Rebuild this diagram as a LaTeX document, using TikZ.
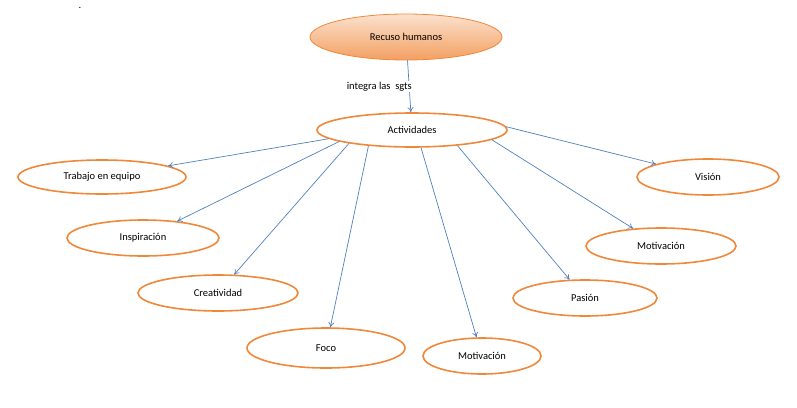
\documentclass[tikz,border=0pt]{standalone}
\usepackage{fontspec}
\setmainfont{Carlito}
\usetikzlibrary{shapes.geometric,arrows.meta}
\definecolor{org}{HTML}{F0883A}
\definecolor{blu}{HTML}{4F81BD}
\begin{document}
\begin{tikzpicture}[x=1pt,y=-1pt,font=\fontsize{10.5}{12}\selectfont,
  el/.style={ellipse,draw=org,line width=1.6pt,inner sep=0pt},
  arr/.style={draw=blu,line width=0.7pt,-{To[length=5pt,width=6pt]}}]
\useasboundingbox (0,0) rectangle (797,407);
\node at (80,8) {.};
\node[el,line width=0.8pt,top color=org!25,bottom color=org!80,minimum width=192pt,minimum height=46pt] (rh) at (406,37) {Recuso humanos};
\node[el,minimum width=190pt,minimum height=34pt] (act) at (412,130) {Actividades};
\node[el,minimum width=168pt,minimum height=34pt] (t1) at (102,177) {Trabajo en equipo};
\node[el,minimum width=152pt,minimum height=36pt] (t2) at (143,238) {Inspiración};
\node[el,minimum width=160pt,minimum height=36pt] (t3) at (218,293) {Creatividad};
\node[el,minimum width=158pt,minimum height=40pt] (t4) at (326,348) {Foco};
\node[el,minimum width=118pt,minimum height=36pt] (t5) at (482,356) {Motivación};
\node[el,minimum width=144pt,minimum height=36pt] (t6) at (585,298) {Pasión};
\node[el,minimum width=150pt,minimum height=36pt] (t7) at (661,246) {Motivación};
\node[el,minimum width=142pt,minimum height=36pt] (t8) at (708,177) {Visión};
\draw[arr] (rh) -- node[pos=0.5,left=-4pt,fill=white,inner sep=1pt] {integra las\ \ sgts} (act);
\draw[arr] (act.186) -- (t1);
\draw[arr] (act.189) -- (t2);
\draw[arr] (act.192) -- (t3);
\draw[arr] (act.200) -- (t4);
\draw[arr] (act.297) -- (t5);
\draw[arr] (act.341) -- (t6);
\draw[arr] (act.353) -- (t7);
\draw[arr] (act.2) -- (t8);
\end{tikzpicture}
\end{document}
